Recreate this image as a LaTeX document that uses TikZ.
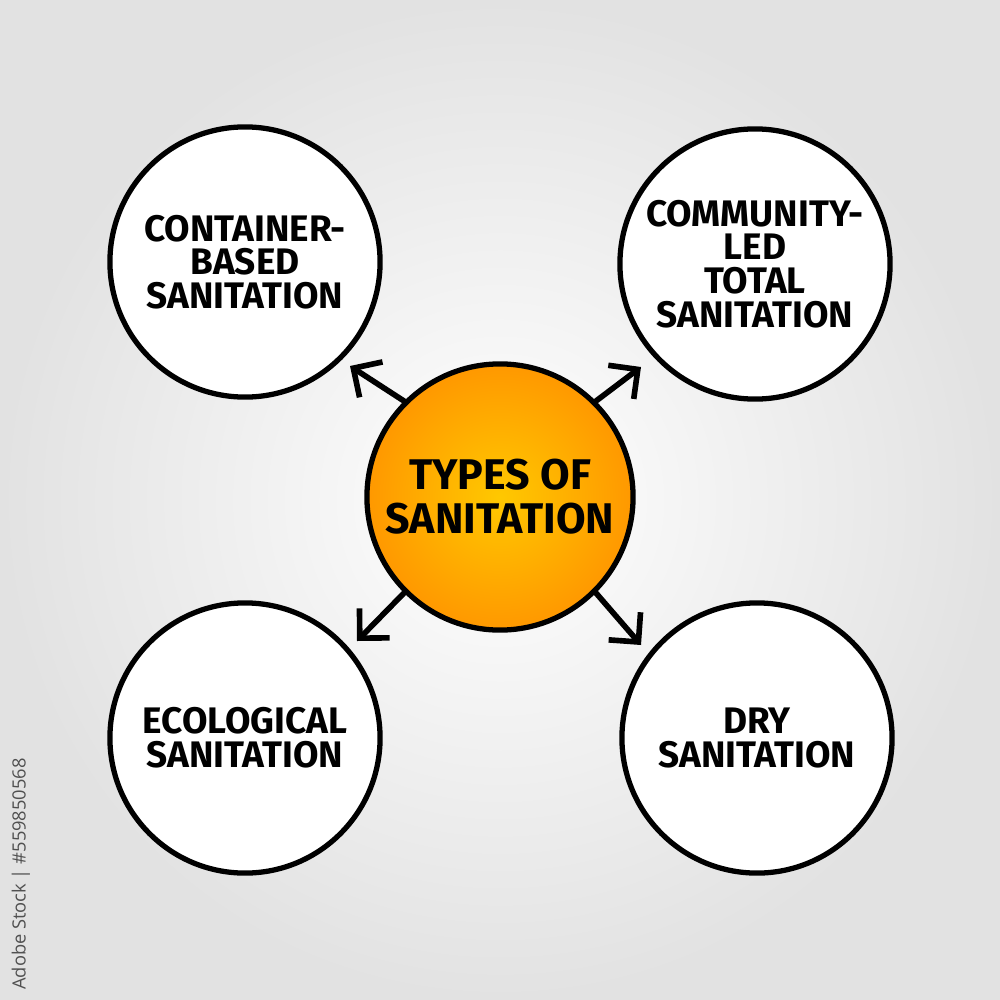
\documentclass[tikz,border=0pt]{standalone}
\usepackage{fontspec}
\setmainfont{Fira Sans}
\newfontfamily\wmfont{Open Sans}
\usetikzlibrary{arrows.meta}
\definecolor{bgedge}{HTML}{E2E2E2}
\definecolor{orin}{HTML}{FFC800}
\definecolor{orout}{HTML}{FF9800}
\definecolor{wmgray}{HTML}{505050}
\begin{document}
\begin{tikzpicture}[x=0.01cm,y=-0.01cm,
  bubble/.style={circle,draw=black,line width=1.5pt,fill=white,minimum size=2.7cm,inner sep=0pt,
    align=center,font=\fontsize{10.5}{9.6}\selectfont\bfseries},
  hub/.style={circle,draw=black,line width=1.5pt,minimum size=2.66cm,inner sep=0pt,
    inner color=orin,outer color=orout,align=center,font=\fontsize{12.2}{12.5}\selectfont\bfseries},
  conn/.style={line width=1.6pt,line cap=round,line join=round,-{Straight Barb[length=6pt,width=12pt,line width=1.6pt]}}]
\useasboundingbox (0,0) rectangle (1000,1000);
\shade[inner color=white,outer color=bgedge] (0,0) rectangle (1000,1000);
\node[hub] (c) at (500,497) {TYPES OF\\SANITATION};
\node[bubble] (tl) at (245,262) {CONTAINER-\\BASED\\SANITATION};
\node[bubble] (tr) at (755,264) {COMMUNITY-\\LED\\TOTAL\\SANITATION};
\node[bubble] (bl) at (245,738) {ECOLOGICAL\\SANITATION};
\node[bubble] (br) at (757,738) {DRY\\SANITATION};
\coordinate (ttl) at (350,366);
\coordinate (ttr) at (641,367);
\coordinate (tbl) at (357,641);
\coordinate (tbr) at (641,645);
\draw[conn] (c.135) -- (ttl);
\draw[conn] (c.45) -- (ttr);
\draw[conn] (c.-135) -- (tbl);
\draw[conn] (c.-45) -- (tbr);
\node[rotate=90,text=wmgray,font=\wmfont\fontsize{5.2}{5.2}\selectfont] (wm) at (21,874) {Adobe Stock | \#559850568};
\end{tikzpicture}
\end{document}
